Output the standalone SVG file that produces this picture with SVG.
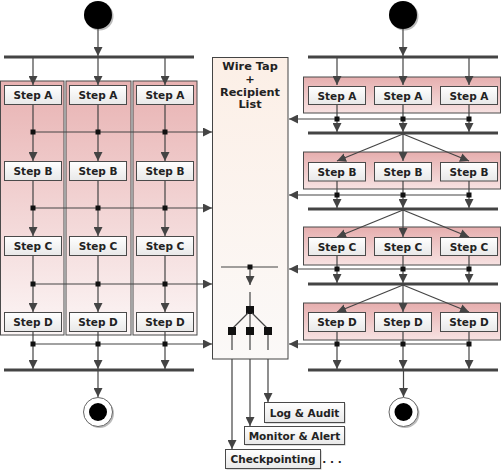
<svg xmlns="http://www.w3.org/2000/svg" width="503" height="471" viewBox="0 0 503 471">
<style>
.ln{stroke:#444;stroke-width:1.2;fill:none}
.ar{stroke:#444;stroke-width:1.2;fill:none;marker-end:url(#ah)}
.bar{stroke:#444;stroke-width:3;fill:none}
.step{fill:url(#gStep);stroke:#4a4a4a;stroke-width:1}
.col{fill:url(#gCol);stroke:#4a4a4a;stroke-width:1}
.row{fill:url(#gRow);stroke:#4a4a4a;stroke-width:1}
.t{font-family:"DejaVu Sans",Verdana,sans-serif;font-weight:bold;font-size:10.5px;fill:#222;text-anchor:middle}
.w{font-size:11.3px}
.j{fill:#111}
.sh{fill:#bbb}
</style>
<defs>
<marker id="ah" viewBox="0 0 10 10" refX="10" refY="5" markerWidth="9" markerHeight="9" markerUnits="userSpaceOnUse" orient="auto"><path d="M0,0 L10,5 L0,10 z" fill="#444"/></marker>
<linearGradient id="gStep" x1="0" y1="0" x2="0" y2="1"><stop offset="0" stop-color="#ffffff"/><stop offset="1" stop-color="#e8e8e8"/></linearGradient>
<linearGradient id="gCol" x1="0" y1="0" x2="0" y2="1"><stop offset="0" stop-color="#e8b2b2"/><stop offset="1" stop-color="#fcf6f6"/></linearGradient>
<linearGradient id="gRow" x1="0" y1="0" x2="0" y2="1"><stop offset="0" stop-color="#e6aeae"/><stop offset="1" stop-color="#f7e2e2"/></linearGradient>
<linearGradient id="gWT" x1="0" y1="0" x2="0" y2="1"><stop offset="0" stop-color="#fcefe6"/><stop offset="1" stop-color="#fbf9f8"/></linearGradient>
</defs>

<g id="left-start"><circle cx="99.5" cy="16.5" r="14" class="sh"/><circle cx="98" cy="15" r="14" fill="#000"/></g>
<g id="right-start"><circle cx="404.5" cy="16.5" r="14" class="sh"/><circle cx="403" cy="15" r="14" fill="#000"/></g>

<g id="left-columns">
<rect x="0.5" y="81" width="63.5" height="254" class="col"/>
<rect x="66" y="81" width="65" height="254" class="col"/>
<rect x="133" y="81" width="64" height="254" class="col"/>
</g>

<g id="right-rows">
<rect x="303.5" y="77" width="197" height="36" class="row"/>
<rect x="303.5" y="152" width="197" height="37" class="row"/>
<rect x="303.5" y="227" width="197" height="38" class="row"/>
<rect x="303.5" y="303" width="197" height="37" class="row"/>
</g>

<g id="wire-tap">
<rect x="212.5" y="57.5" width="75.5" height="301.5" fill="url(#gWT)" stroke="#444" stroke-width="1"/>
<text class="t w" x="250" y="70">Wire Tap</text>
<text class="t w" x="250" y="83">+</text>
<text class="t w" x="250" y="95.5">Recipient</text>
<text class="t w" x="250" y="107.5">List</text>
<line x1="221" y1="267" x2="278" y2="267" class="ln"/>
<rect x="247.5" y="264.5" width="5" height="5" class="j"/>
<line x1="250" y1="269" x2="250" y2="285" class="ar"/>
<line x1="250" y1="292" x2="250" y2="306" class="ln"/>
<rect x="246" y="306" width="8" height="8" class="j"/>
<line x1="248" y1="313" x2="233" y2="328" class="ln"/>
<line x1="250" y1="314" x2="250" y2="328" class="ln"/>
<line x1="252" y1="313" x2="267" y2="328" class="ln"/>
<rect x="228" y="327" width="8" height="8" class="j"/>
<rect x="246" y="327" width="8" height="8" class="j"/>
<rect x="264" y="327" width="8" height="8" class="j"/>
<line x1="232" y1="335" x2="232" y2="350" class="ln"/>
<line x1="250" y1="335" x2="250" y2="350" class="ln"/>
<line x1="268" y1="335" x2="268" y2="350" class="ln"/>
</g>

<g id="left-steps">
<rect x="4.5" y="85.5" width="57" height="19" class="step"/><text class="t" x="33" y="99">Step A</text>
<rect x="69.5" y="85.5" width="57" height="19" class="step"/><text class="t" x="98" y="99">Step A</text>
<rect x="136.5" y="85.5" width="57" height="19" class="step"/><text class="t" x="165" y="99">Step A</text>
<rect x="4.5" y="161.5" width="57" height="19" class="step"/><text class="t" x="33" y="175">Step B</text>
<rect x="69.5" y="161.5" width="57" height="19" class="step"/><text class="t" x="98" y="175">Step B</text>
<rect x="136.5" y="161.5" width="57" height="19" class="step"/><text class="t" x="165" y="175">Step B</text>
<rect x="4.5" y="236.5" width="57" height="19" class="step"/><text class="t" x="33" y="250">Step C</text>
<rect x="69.5" y="236.5" width="57" height="19" class="step"/><text class="t" x="98" y="250">Step C</text>
<rect x="136.5" y="236.5" width="57" height="19" class="step"/><text class="t" x="165" y="250">Step C</text>
<rect x="4.5" y="312.5" width="57" height="19" class="step"/><text class="t" x="33" y="326">Step D</text>
<rect x="69.5" y="312.5" width="57" height="19" class="step"/><text class="t" x="98" y="326">Step D</text>
<rect x="136.5" y="312.5" width="57" height="19" class="step"/><text class="t" x="165" y="326">Step D</text>
</g>

<g id="right-steps">
<rect x="308.5" y="86.5" width="57" height="18" class="step"/><text class="t" x="337" y="99.5">Step A</text>
<rect x="374.5" y="86.5" width="57" height="18" class="step"/><text class="t" x="403" y="99.5">Step A</text>
<rect x="440.5" y="86.5" width="57" height="18" class="step"/><text class="t" x="469" y="99.5">Step A</text>
<rect x="308.5" y="162.5" width="57" height="18.5" class="step"/><text class="t" x="337" y="175.5">Step B</text>
<rect x="374.5" y="162.5" width="57" height="18.5" class="step"/><text class="t" x="403" y="175.5">Step B</text>
<rect x="440.5" y="162.5" width="57" height="18.5" class="step"/><text class="t" x="469" y="175.5">Step B</text>
<rect x="308.5" y="237.5" width="57" height="18" class="step"/><text class="t" x="337" y="250.5">Step C</text>
<rect x="374.5" y="237.5" width="57" height="18" class="step"/><text class="t" x="403" y="250.5">Step C</text>
<rect x="440.5" y="237.5" width="57" height="18" class="step"/><text class="t" x="469" y="250.5">Step C</text>
<rect x="308.5" y="312.5" width="57" height="19" class="step"/><text class="t" x="337" y="326">Step D</text>
<rect x="374.5" y="312.5" width="57" height="19" class="step"/><text class="t" x="403" y="326">Step D</text>
<rect x="440.5" y="312.5" width="57" height="19" class="step"/><text class="t" x="469" y="326">Step D</text>
</g>

<g id="outputs">
<rect x="265.5" y="403.5" width="80" height="20" class="sh"/>
<rect x="264.5" y="402.5" width="80" height="20" class="step"/><text class="t" x="304.5" y="416.5">Log &amp; Audit</text>
<rect x="245.5" y="427.5" width="100" height="18" class="sh"/>
<rect x="244.5" y="426.5" width="100" height="18" class="step"/><text class="t" x="294.5" y="439.5">Monitor &amp; Alert</text>
<rect x="226.5" y="450.5" width="95" height="19" class="sh"/>
<rect x="225.5" y="449.5" width="95" height="19" class="step"/><text class="t" x="273" y="463">Checkpointing</text>
<text class="t" x="332" y="463">. . .</text>
</g>

<g id="left-end"><circle cx="99.5" cy="413.5" r="14.5" class="sh"/><circle cx="98" cy="412" r="14.5" fill="#fff" stroke="#666" stroke-width="1"/><circle cx="98" cy="412" r="9" fill="#000"/></g>
<g id="right-end"><circle cx="405" cy="413.5" r="14.5" class="sh"/><circle cx="403.5" cy="412" r="14.5" fill="#fff" stroke="#666" stroke-width="1"/><circle cx="403.5" cy="412" r="9" fill="#000"/></g>

<g id="connectors">
<line x1="98" y1="29" x2="98" y2="56" class="ar"/>
<line x1="4" y1="57" x2="194" y2="57" class="bar"/>
<line x1="33" y1="58" x2="33" y2="85" class="ar"/>
<line x1="98" y1="58" x2="98" y2="85" class="ar"/>
<line x1="165" y1="58" x2="165" y2="85" class="ar"/>
<line x1="33" y1="105" x2="33" y2="161" class="ar"/>
<line x1="98" y1="105" x2="98" y2="161" class="ar"/>
<line x1="165" y1="105" x2="165" y2="161" class="ar"/>
<line x1="33" y1="181" x2="33" y2="236" class="ar"/>
<line x1="98" y1="181" x2="98" y2="236" class="ar"/>
<line x1="165" y1="181" x2="165" y2="236" class="ar"/>
<line x1="33" y1="256" x2="33" y2="312" class="ar"/>
<line x1="98" y1="256" x2="98" y2="312" class="ar"/>
<line x1="165" y1="256" x2="165" y2="312" class="ar"/>
<line x1="33" y1="332" x2="33" y2="369" class="ar"/>
<line x1="98" y1="332" x2="98" y2="369" class="ar"/>
<line x1="165" y1="332" x2="165" y2="369" class="ar"/>
<line x1="33" y1="132" x2="212" y2="132" class="ar"/>
<line x1="33" y1="208" x2="212" y2="208" class="ar"/>
<line x1="33" y1="284" x2="212" y2="284" class="ar"/>
<line x1="33" y1="344" x2="212" y2="344" class="ar"/>
<rect x="30.5" y="129.5" width="5" height="5" class="j"/><rect x="95.5" y="129.5" width="5" height="5" class="j"/><rect x="162.5" y="129.5" width="5" height="5" class="j"/>
<rect x="30.5" y="205.5" width="5" height="5" class="j"/><rect x="95.5" y="205.5" width="5" height="5" class="j"/><rect x="162.5" y="205.5" width="5" height="5" class="j"/>
<rect x="30.5" y="281.5" width="5" height="5" class="j"/><rect x="95.5" y="281.5" width="5" height="5" class="j"/><rect x="162.5" y="281.5" width="5" height="5" class="j"/>
<rect x="30.5" y="341.5" width="5" height="5" class="j"/><rect x="95.5" y="341.5" width="5" height="5" class="j"/><rect x="162.5" y="341.5" width="5" height="5" class="j"/>
<line x1="4" y1="370" x2="194" y2="370" class="bar"/>
<line x1="98" y1="371" x2="98" y2="397" class="ar"/>
<line x1="403" y1="29" x2="403" y2="56" class="ar"/>
<line x1="308" y1="57" x2="498" y2="57" class="bar"/>
<line x1="337" y1="58" x2="337" y2="85" class="ar"/>
<line x1="403" y1="58" x2="403" y2="85" class="ar"/>
<line x1="469" y1="58" x2="469" y2="85" class="ar"/>
<line x1="337" y1="105" x2="337" y2="132" class="ar"/>
<line x1="403" y1="105" x2="403" y2="132" class="ar"/>
<line x1="469" y1="105" x2="469" y2="132" class="ar"/>
<line x1="469" y1="119" x2="289" y2="119" class="ar"/>
<line x1="308" y1="133" x2="498" y2="133" class="bar"/>
<line x1="403" y1="134" x2="337" y2="161" class="ar"/>
<line x1="403" y1="134" x2="403" y2="161" class="ar"/>
<line x1="403" y1="134" x2="469" y2="161" class="ar"/>
<line x1="337" y1="181" x2="337" y2="208" class="ar"/>
<line x1="403" y1="181" x2="403" y2="208" class="ar"/>
<line x1="469" y1="181" x2="469" y2="208" class="ar"/>
<line x1="469" y1="195" x2="289" y2="195" class="ar"/>
<line x1="308" y1="209" x2="498" y2="209" class="bar"/>
<line x1="403" y1="210" x2="337" y2="237" class="ar"/>
<line x1="403" y1="210" x2="403" y2="237" class="ar"/>
<line x1="403" y1="210" x2="469" y2="237" class="ar"/>
<line x1="337" y1="256" x2="337" y2="283" class="ar"/>
<line x1="403" y1="256" x2="403" y2="283" class="ar"/>
<line x1="469" y1="256" x2="469" y2="283" class="ar"/>
<line x1="469" y1="269" x2="289" y2="269" class="ar"/>
<line x1="308" y1="284" x2="498" y2="284" class="bar"/>
<line x1="403" y1="285" x2="337" y2="312" class="ar"/>
<line x1="403" y1="285" x2="403" y2="312" class="ar"/>
<line x1="403" y1="285" x2="469" y2="312" class="ar"/>
<line x1="337" y1="332" x2="337" y2="369" class="ar"/>
<line x1="403" y1="332" x2="403" y2="369" class="ar"/>
<line x1="469" y1="332" x2="469" y2="369" class="ar"/>
<line x1="469" y1="344" x2="289" y2="344" class="ar"/>
<rect x="334.5" y="116.5" width="5" height="5" class="j"/><rect x="400.5" y="116.5" width="5" height="5" class="j"/><rect x="466.5" y="116.5" width="5" height="5" class="j"/>
<rect x="334.5" y="192.5" width="5" height="5" class="j"/><rect x="400.5" y="192.5" width="5" height="5" class="j"/><rect x="466.5" y="192.5" width="5" height="5" class="j"/>
<rect x="334.5" y="266.5" width="5" height="5" class="j"/><rect x="400.5" y="266.5" width="5" height="5" class="j"/><rect x="466.5" y="266.5" width="5" height="5" class="j"/>
<rect x="334.5" y="341.5" width="5" height="5" class="j"/><rect x="400.5" y="341.5" width="5" height="5" class="j"/><rect x="466.5" y="341.5" width="5" height="5" class="j"/>
<line x1="308" y1="370" x2="498" y2="370" class="bar"/>
<line x1="403.5" y1="371" x2="403.5" y2="397" class="ar"/>
<line x1="232" y1="359" x2="232" y2="449" class="ar"/>
<line x1="250" y1="359" x2="250" y2="426" class="ar"/>
<line x1="268" y1="359" x2="268" y2="402" class="ar"/>
</g>
</svg>
